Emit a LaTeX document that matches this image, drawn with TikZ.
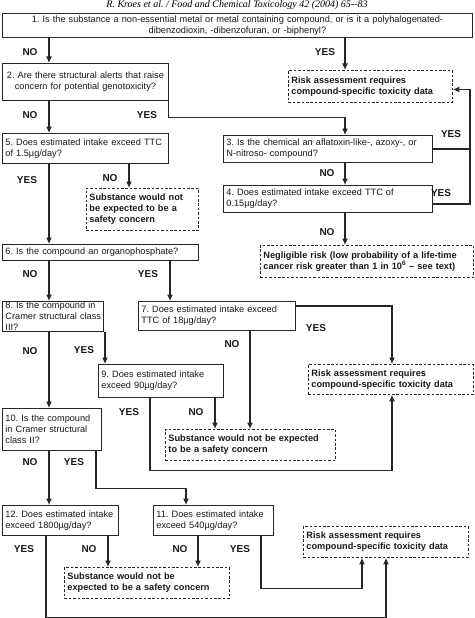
\documentclass[tikz,border=0pt]{standalone}
\usepackage{fontspec}
\setmainfont{Liberation Sans}
\newfontfamily\journalfont{Liberation Serif}
\usepackage{tikz}
\usetikzlibrary{arrows.meta}
\frenchspacing

\begin{document}
\begin{tikzpicture}[x=1pt, y=-1pt, >={Latex[length=6.5pt,width=6pt]},
        question/.style={draw=black!85, line width=0.9pt, anchor=north west, inner xsep=3pt,
                         inner ysep=0.5pt, align=left, text=black!90,
                         font=\fontsize{9.2}{11}\selectfont},
        outcome/.style={question, dashed, dash pattern=on 2.6pt off 1.8pt,
                        font=\fontsize{9.2}{11}\selectfont\bfseries},
        answer/.style={font=\fontsize{10}{12}\selectfont\bfseries, text=black!90},
        link/.style={->, line width=1.1pt, draw=black!85}]
        \useasboundingbox[fill=white] (0,0) rectangle (474,618);

        \node[font=\journalfont\itshape\fontsize{10}{11}\selectfont, anchor=base] (journal)
            at (237,7.5) {R. Kroes et al. / Food and Chemical Toxicology 42 (2004) 65--83};

        % questions and outcomes
        \node[question, align=center, text width=464pt, minimum height=24pt] (q1) at (2,13)
            {1. Is the substance a non-essential metal or metal containing compound, or is it a polyhalogenated-\\dibenzodioxin, -dibenzofuran, or -biphenyl?};
        \node[question, align=center, text width=160pt, minimum height=37pt] (q2) at (2,63)
            {2. Are there structural alerts that raise\\concern for potential genotoxicity?};
        \node[outcome, text width=158pt, minimum height=32pt] (ra1) at (288,70)
            {Risk assessment requires\\compound-specific toxicity data};
        \node[question, text width=203pt, minimum height=27pt] (q3) at (223,135)
            {3. Is the chemical an aflatoxin-like-, azoxy-, or\\N-nitroso- compound?};
        \node[question, text width=160pt, minimum height=30pt] (q5) at (2,133)
            {5. Does estimated intake exceed TTC\\of 1.5µg/day?};
        \node[outcome, text width=106pt, minimum height=42pt] (s1) at (86,188)
            {Substance would not\\be expected to be a\\safety concern};
        \node[question, text width=203pt, minimum height=27pt] (q4) at (223,185)
            {4. Does estimated intake exceed TTC of\\0.15µg/day?};
        \node[outcome, text width=207pt, minimum height=32pt] (nr) at (260,245)
            {Negligible risk (low probability of a life-time\\cancer risk greater than 1 in 10\textsuperscript{6} -- see text)};
        \node[question, text width=190pt, minimum height=16pt] (q6) at (2,244)
            {6. Is the compound an organophosphate?};
        \node[question, text width=95pt, minimum height=30pt] (q8) at (2,301)
            {8. Is the compound in\\\mbox{Cramer structural class}\\III?};
        \node[question, text width=151pt, minimum height=29pt] (q7) at (138,301)
            {7. Does estimated intake exceed\\TTC of 18µg/day?};
        \node[outcome, text width=159pt, minimum height=30pt] (ra2) at (308,364)
            {Risk assessment requires\\compound-specific toxicity data};
        \node[question, text width=119pt, minimum height=33pt] (q9) at (98,364)
            {9. Does estimated intake\\exceed 90µg/day?};
        \node[outcome, text width=164pt, minimum height=31pt] (s2) at (165,429)
            {Substance would not be expected\\to be a safety concern};
        \node[question, text width=93pt, minimum height=42pt] (q10) at (2,408)
            {10. Is the compound\\in Cramer structural\\class II?};
        \node[question, text width=110pt, minimum height=30pt] (q12) at (2,505)
            {\mbox{12. Does estimated intake}\\exceed 1800µg/day?};
        \node[question, text width=114pt, minimum height=30pt] (q11) at (153,505)
            {\mbox{11. Does estimated intake}\\exceed 540µg/day?};
        \node[outcome, text width=159pt, minimum height=31pt] (ra3) at (303,526)
            {Risk assessment requires\\compound-specific toxicity data};
        \node[outcome, text width=159pt, minimum height=31pt] (s3) at (64,567)
            {Substance would not be\\expected to be a safety concern};

        % columns of the vertical connectors
        \coordinate (xMain) at (49,0);
        \coordinate (xRight) at (345,0);
        \coordinate (xBack) at (470,0);
        \coordinate (xFive) at (129,0);
        \coordinate (xSix) at (170,0);
        \coordinate (xSevenN) at (250,0);
        \coordinate (xSevenY) at (392,0);
        \coordinate (xEight) at (105,0);
        \coordinate (xNineN) at (215,0);
        \coordinate (xNineY) at (150,0);
        \coordinate (xTenY) at (96,0);
        \coordinate (xEleven) at (186,0);
        \coordinate (xElevenN) at (198,0);
        \coordinate (xElevenY) at (261,0);
        \coordinate (xTwelveN) at (108,0);
        \coordinate (xTwelveY) at (46,0);
        \coordinate (xRaN) at (362,0);
        \coordinate (xRaY) at (386,0);

        \draw[link] (q1.south -| xMain) -- (q2.north -| xMain);
        \draw[link] (q1.south -| xRight) -- (ra1.north -| xRight);
        \draw[link] (q2.south -| xMain) -- (q5.north -| xMain);
        \draw[link] (q2.south east) -- ++(0,17) -| (q3.north -| xRight);
        \draw[link] (q3.south -| xRight) -- (q4.north -| xRight);
        \draw[link] (q4.south -| xRight) -- (nr.north -| xRight);
        \draw[link, -] (q3.east) -- (q3.east -| xBack);
        \draw[link] ([yshift=-5pt]q4.east) -| ([yshift=-3pt]xBack |- ra1.east) -- ([yshift=-3pt]ra1.east);
        \draw[link] (q5.south -| xMain) -- (q6.north -| xMain);
        \draw[link] (q5.south -| xFive) -- (s1.north -| xFive);
        \draw[link] (q6.south -| xMain) -- (q8.north -| xMain);
        \draw[link] (q6.south -| xSix) -- (q7.north -| xSix);
        \draw[link] ([yshift=10pt]q7.east) -| (ra2.north -| xSevenY);
        \draw[link] (q7.south -| xSevenN) -- (s2.north -| xSevenN);
        \draw[link] (q8.south -| xMain) -- (q10.north -| xMain);
        \draw[link] (q8.south -| xEight) -- (q9.north -| xEight);
        \draw[link] (q9.south -| xNineN) -- (s2.north -| xNineN);
        \draw[link] (q9.south -| xNineY) -- ++(0,73) -| (ra2.south -| xSevenY);
        \draw[link] (q10.south -| xMain) -- (q12.north -| xMain);
        \draw[link] (q10.south -| xTenY) -- ++(0,38) -| (q11.north -| xEleven);
        \draw[link] (q12.south -| xTwelveN) -- (s3.north -| xTwelveN);
        \draw[link] (q12.south -| xTwelveY) -- ++(0,82) -| (ra3.south -| xRaY);
        \draw[link] (q11.south -| xElevenN) -- (s3.north -| xElevenN);
        \draw[link] (q11.south -| xElevenY) -- ++(0,53) -| (ra3.south -| xRaN);

        % answers
        \node[answer] (a1n) at (30,52) {NO};
        \node[answer] (a1y) at (325,52) {YES};
        \node[answer] (a2n) at (30,115) {NO};
        \node[answer] (a2y) at (147,115) {YES};
        \node[answer] (a3y) at (451,134) {YES};
        \node[answer] (a3n) at (327,173) {NO};
        \node[answer] (a4y) at (441,193) {YES};
        \node[answer] (a4n) at (327,232) {NO};
        \node[answer] (a5y) at (27,180) {YES};
        \node[answer] (a5n) at (110,178) {NO};
        \node[answer] (a6n) at (30,274) {NO};
        \node[answer] (a6y) at (148,274) {YES};
        \node[answer] (a7y) at (316,328) {YES};
        \node[answer] (a7n) at (232,344) {NO};
        \node[answer] (a8n) at (30,351) {NO};
        \node[answer] (a8y) at (84,350) {YES};
        \node[answer] (a9y) at (129,412) {YES};
        \node[answer] (a9n) at (196,412) {NO};
        \node[answer] (a10n) at (30,462) {NO};
        \node[answer] (a10y) at (74,462) {YES};
        \node[answer] (a12y) at (24,549) {YES};
        \node[answer] (a12n) at (89,549) {NO};
        \node[answer] (a11n) at (180,549) {NO};
        \node[answer] (a11y) at (240,549) {YES};
    \end{tikzpicture}
\end{document}
